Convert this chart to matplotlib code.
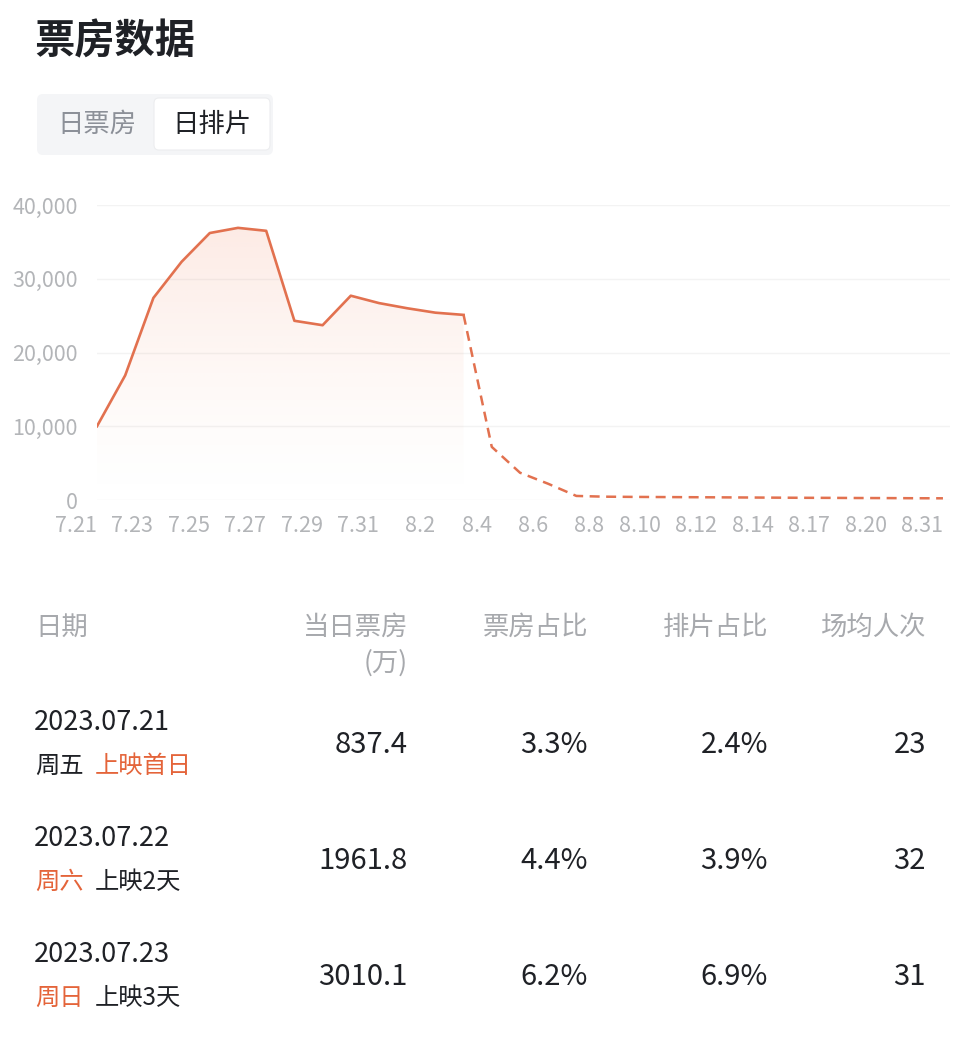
import numpy as np
import matplotlib.pyplot as plt
from matplotlib.patches import Polygon, FancyBboxPatch
from matplotlib.colors import to_rgb

plt.rcParams['font.family'] = ['Noto Sans CJK SC', 'DejaVu Sans']

# chart data (daily screenings)
dates = ['7.21', '7.22', '7.23', '7.24', '7.25', '7.26', '7.27', '7.28', '7.29', '7.30', '7.31',
         '8.1', '8.2', '8.3', '8.4', '8.5', '8.6', '8.7', '8.8', '8.9', '8.10', '8.11', '8.12',
         '8.13', '8.14', '8.15', '8.17', '8.18', '8.20', '8.24', '8.31']
screenings = [10000, 16900, 27400, 32300, 36200, 36900, 36500, 24300, 23700, 27700, 26700,
              26000, 25400, 25100, 7200, 3700, 2200, 550, 450, 420, 400, 380, 360,
              340, 320, 300, 290, 270, 260, 240, 230]
n_actual = 14  # 7.21 - 8.3 solid, rest dashed

# table data
col_headers = ['当日票房', '票房占比', '排片占比', '场均人次']
row_dates = ['2023.07.21', '2023.07.22', '2023.07.23']
row_weekdays = ['周五', '周六', '周日']
row_status = ['上映首日', '上映2天', '上映3天']
box_office = ['837.4', '1961.8', '3010.1']
box_share = ['3.3%', '4.4%', '6.2%']
screen_share = ['2.4%', '3.9%', '6.9%']
avg_people = ['23', '32', '31']

W, H = 960, 1040
ORANGE = '#E4643A'
LINE = '#E2714F'
DARK = '#1F2126'
GRAY = '#A7A9AD'
TICK = '#B3B5B8'


def px(x, y):
    return x / W, 1 - y / H


fig = plt.figure(figsize=(9.6, 10.4), dpi=100)

# title and tabs
fig.text(*px(34, 42), '票房数据', fontsize=29, fontweight='bold', color=DARK, va='center')
fig.patches.append(FancyBboxPatch(px(37, 155), 236 / W, 61 / H, boxstyle='round,pad=0,rounding_size=0.006',
                                  transform=fig.transFigure, facecolor='#F4F5F7', edgecolor='none'))
fig.patches.append(FancyBboxPatch(px(154, 150), 116 / W, 52 / H, boxstyle='round,pad=0,rounding_size=0.005',
                                  transform=fig.transFigure, facecolor='white', edgecolor='#ECEDEF', lw=0.8))
fig.text(*px(97, 124), '日票房', fontsize=19, color='#8C9098', ha='center', va='center')
fig.text(*px(212, 124), '日排片', fontsize=19, color=DARK, ha='center', va='center')

# line chart
ax = fig.add_axes([97 / W, 1 - 500 / H, 853 / W, 295 / H])
x = np.arange(len(dates))
y = np.array(screenings)

ax.plot(x[:n_actual], y[:n_actual], color=LINE, lw=1.9, zorder=3, solid_joinstyle='round')
ax.plot(x[n_actual - 1:], y[n_actual - 1:], color=LINE, lw=1.8, ls=(0, (4, 2.6)), zorder=3)

# gradient fill under the solid part
verts = list(zip(x[:n_actual], y[:n_actual])) + [(x[n_actual - 1], 0), (0, 0)]
poly = Polygon(verts, closed=True, facecolor='none', edgecolor='none')
ax.add_patch(poly)
grad = np.zeros((256, 1, 4))
grad[..., :3] = to_rgb('#F2825C')
grad[..., 3] = (np.linspace(0.0, 1.0, 256) ** 1.3 * 0.16).reshape(-1, 1)
im = ax.imshow(grad, extent=[0, n_actual - 1, 0, max(screenings)], origin='lower', aspect='auto', zorder=2)
im.set_clip_path(poly)

ax.set_xlim(0, 30.25)
ax.set_ylim(0, 40000)
ax.set_yticks(range(0, 40001, 10000))
ax.set_yticklabels([f'{v:,}' for v in range(0, 40001, 10000)])
ax.set_xticks(x[::2], dates[::2], ha='right')
ax.tick_params(axis='both', length=0, colors=TICK, labelsize=15.5)
ax.tick_params(axis='y', pad=14)
ax.tick_params(axis='x', pad=11)
for lbl in ax.get_xticklabels():
    lbl.set_x(lbl.get_position()[0])
ax.grid(axis='y', color='#F3F3F3', lw=1)
ax.set_axisbelow(True)
for s in ax.spines.values():
    s.set_visible(False)

# table header
fig.text(*px(35, 627), '日期', fontsize=19, color=GRAY, va='center')
for hx, h in zip([408, 588, 768, 926], col_headers):
    fig.text(*px(hx, 627), h, fontsize=19, color=GRAY, ha='right', va='center')
fig.text(*px(408, 663), '(万)', fontsize=19, color=GRAY, ha='right', va='center')

# table rows
row_y = [745, 861, 977]
for i, ry in enumerate(row_y):
    fig.text(*px(34, ry - 22), row_dates[i], fontsize=19.5, fontweight='medium', color=DARK, va='center')
    wd_color = DARK if i == 0 else ORANGE
    st_color = ORANGE if i == 0 else DARK
    fig.text(*px(35, ry + 21), row_weekdays[i], fontsize=17.5, fontweight='medium', color=wd_color, va='center')
    fig.text(*px(95, ry + 21), row_status[i], fontsize=17.5, fontweight='medium', color=st_color, va='center')
    for vx, v in zip([408, 588, 768, 926], [box_office[i], box_share[i], screen_share[i], avg_people[i]]):
        fig.text(*px(vx, ry), v, fontsize=21, fontweight='medium', color=DARK, ha='right', va='center')

fig.savefig('out.png', dpi=100, facecolor='white')
